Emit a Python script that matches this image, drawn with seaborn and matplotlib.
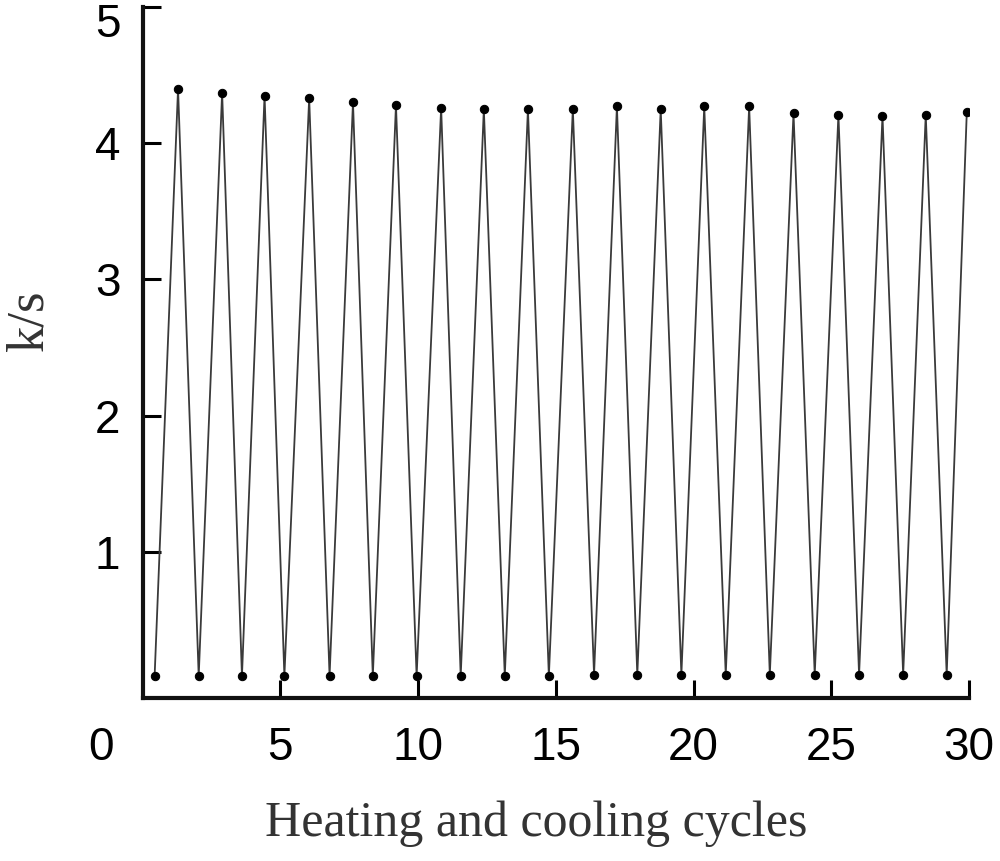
import numpy as np
import pandas as pd
import matplotlib
matplotlib.use('Agg')
import matplotlib.pyplot as plt
import matplotlib.transforms as mtransforms
import seaborn as sns

# cycle positions: low (cooling) and high (heating) points
low_x = [0.44, 2.04, 3.61, 5.15, 6.79, 8.36, 9.95, 11.55, 13.15, 14.75,
         16.39, 17.96, 19.56, 21.17, 22.77, 24.40, 26.01, 27.61, 29.19]
low_y = [0.09, 0.09, 0.09, 0.09, 0.09, 0.09, 0.09, 0.09, 0.09, 0.09,
         0.10, 0.10, 0.10, 0.10, 0.10, 0.10, 0.10, 0.10, 0.10]
high_x = [1.29, 2.89, 4.43, 6.05, 7.64, 9.20, 10.84, 12.39, 13.99, 15.62,
          17.22, 18.81, 20.39, 22.02, 23.63, 25.26, 26.86, 28.43, 29.92]
high_y = [4.40, 4.37, 4.35, 4.33, 4.30, 4.28, 4.26, 4.25, 4.25, 4.25,
          4.27, 4.25, 4.27, 4.27, 4.22, 4.21, 4.20, 4.21, 4.23]
x_ticks = [0, 5, 10, 15, 20, 25, 30]
y_ticks = [1, 2, 3, 4, 5]

xs, ys = [], []
for i in range(len(low_x)):
    xs += [low_x[i], high_x[i]]
    ys += [low_y[i], high_y[i]]
df = pd.DataFrame({'cycle': xs, 'ks': ys})

sns.set_style('ticks')
plt.rcParams['font.family'] = ['Liberation Sans', 'DejaVu Sans']

fig = plt.figure(figsize=(10, 8.61), dpi=100)
ax = fig.add_axes([0.1425, 0.1893, 0.8265, 0.8026])

sns.lineplot(data=df, x='cycle', y='ks', sort=False, ax=ax, color='#3a3a3a',
             linewidth=1.3, marker='o', markersize=6, markerfacecolor='black',
             markeredgecolor='black')

ax.set_xlim(0, 30)
ax.set_ylim(-0.072, 5.0)
ax.set_xticks(x_ticks)
ax.set_yticks(y_ticks)
ax.tick_params(direction='in', length=13, width=2.2, labelsize=33, colors='black')
ax.tick_params(axis='x', pad=20)
ax.tick_params(axis='y', pad=16)
for s in ['left', 'bottom']:
    ax.spines[s].set_linewidth(3)
    ax.spines[s].set_color('#111111')
ax.spines['right'].set_visible(False)
ax.spines['top'].set_visible(False)

# the shared "0" sits left of the corner
lab0 = ax.get_xticklabels()[0]
lab0.set_transform(lab0.get_transform() + mtransforms.ScaledTranslation(-0.42, 0, fig.dpi_scale_trans))
ax.xaxis.get_major_ticks()[0].tick1line.set_visible(False)
# top label "5" sits a little below the axis end
lab5 = ax.get_yticklabels()[-1]
lab5.set_transform(lab5.get_transform() + mtransforms.ScaledTranslation(0, -0.13, fig.dpi_scale_trans))

ax.set_xlabel('Heating and cooling cycles', family='Liberation Serif', fontsize=36,
              color='#333333')
ax.xaxis.set_label_coords(0.476, -0.148)
ax.set_ylabel('k/s', family='Liberation Serif', fontsize=38, color='#333333')
ax.yaxis.set_label_coords(-0.108, 0.545)

fig.savefig('out.png', dpi=100)
